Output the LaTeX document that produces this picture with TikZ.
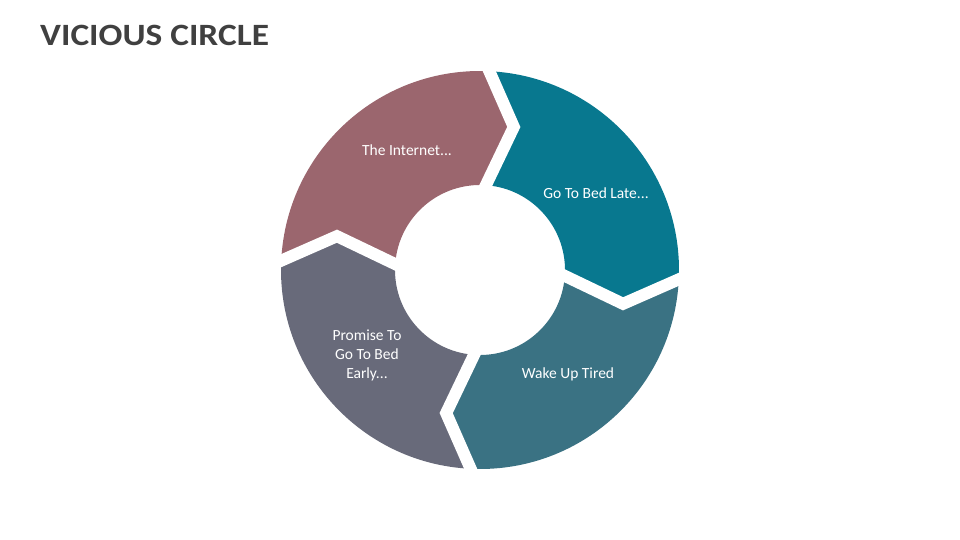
\documentclass[tikz,border=0pt]{standalone}
\usepackage{fontspec}
\setmainfont{Carlito}
\definecolor{cred}{RGB}{155,102,110}
\definecolor{cteal}{RGB}{8,120,143}
\definecolor{cdteal}{RGB}{58,114,131}
\definecolor{cgrey}{RGB}{104,106,122}
\definecolor{ctitle}{RGB}{64,64,64}
\tikzset{
  lbl/.style={text=white, font=\fontsize{15.5}{19}\selectfont, align=center},
  gapline/.style={draw=white, line width=12pt, miter limit=20, line join=miter}
}
\begin{document}
\begin{tikzpicture}[x=1pt,y=1pt]
\useasboundingbox (-480pt,-270pt) rectangle (480pt,270pt);
\def\Ro{199pt}\def\Ri{85pt}\def\Rm{147pt}\def\dt{11.7}
% segments: k = joint at clockwise end
\foreach \k/\c in {0/cred,1/cteal,2/cdteal,3/cgrey}{
  \pgfmathsetmacro{\t}{88.4-90*\k}
  \pgfmathsetmacro{\s}{\t+90}
  \pgfmathsetmacro{\tt}{\t-\dt}
  \pgfmathsetmacro{\st}{\s-\dt}
  \fill[\c] (\s:\Ro) arc[start angle=\s, end angle=\t, radius=\Ro]
    -- (\tt:\Rm) -- (\t:\Ri) arc[start angle=\t, end angle=\s, radius=\Ri]
    -- (\st:\Rm) -- cycle;
}
\foreach \k in {0,1,2,3}{
  \pgfmathsetmacro{\t}{88.4-90*\k}
  \pgfmathsetmacro{\tt}{\t-\dt}
  \draw[gapline] (\t:207pt) -- (\tt:\Rm) -- (\t:77pt);
}
\node[lbl] (t1) at (-73pt,120pt) {The Internet...};
\node[lbl] (t2) at (116pt,77pt) {Go To Bed Late...};
\node[lbl] (t3) at (88pt,-104pt) {Wake Up Tired};
\node[lbl] (t4) at (-113pt,-85pt) {Promise To\\Go To Bed\\Early...};
\node[anchor=west, text=ctitle, font=\fontsize{31}{36}\selectfont\bfseries, inner sep=0pt, xscale=1.14, transform shape] (title) at (-440pt,235pt) {VICIOUS CIRCLE};
\end{tikzpicture}
\end{document}
